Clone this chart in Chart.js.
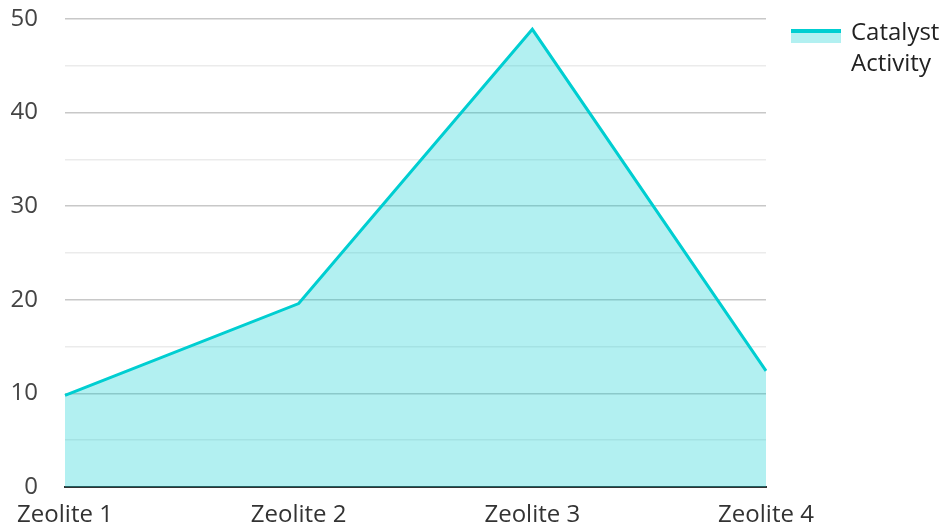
<!DOCTYPE html>
<html>
<head>
<meta charset="utf-8">
<script src="https://cdn.jsdelivr.net/npm/chart.js@4/dist/chart.umd.min.js"></script>
<style>
  html, body { margin: 0; padding: 0; background: #fff; }
  #wrap { width: 947px; height: 528px; position: relative; }
</style>
</head>
<body>
<div id="wrap"><canvas id="chart"></canvas></div>
<script>
const categories = ["Zeolite 1", "Zeolite 2", "Zeolite 3", "Zeolite 4"];
const activityValues = [9.8, 19.6, 48.9, 12.4];
const seriesName = ["Catalyst", "Activity"];

const lineColor = "rgb(0, 206, 209)";
const fillColor = "rgba(0, 206, 209, 0.3)";
const fontFamily = "'Open Sans', 'Noto Sans', sans-serif";

// legend drawn by hand so the label can wrap onto two lines
const sideLegend = {
    id: "sideLegend",
    afterDraw(chart) {
        const ctx = chart.ctx;
        const ds = chart.data.datasets[0];
        const x = chart.chartArea.right + 25, y = 29;
        ctx.save();
        ctx.fillStyle = ds.backgroundColor;
        ctx.fillRect(x, y, 50, 14);
        ctx.fillStyle = ds.borderColor;
        ctx.fillRect(x, y, 50, 4);
        ctx.fillStyle = "#222";
        ctx.font = "24px " + fontFamily;
        ctx.textBaseline = "middle";
        ds.label.forEach((line, i) => ctx.fillText(line, x + 60, 33 + i * 31));
        ctx.restore();
    },
};

const ctx = document.getElementById("chart").getContext("2d");
new Chart(ctx, {
    type: "line",
    data: {
        labels: categories,
        datasets: [
            {
                label: seriesName,
                data: activityValues,
                borderColor: lineColor,
                backgroundColor: fillColor,
                borderWidth: 3,
                fill: "origin",
                pointRadius: 0,
                tension: 0,
            },
        ],
    },
    options: {
        responsive: true,
        maintainAspectRatio: false,
        animation: false,
        layout: { padding: { top: 19, right: 181, left: 10, bottom: 0 } },
        plugins: { legend: { display: false }, tooltip: { enabled: false } },
        scales: {
            x: {
                offset: false,
                grid: { display: false, drawTicks: false },
                border: { display: true, color: "#333", width: 2 },
                ticks: {
                    color: "#333",
                    font: { family: fontFamily, size: 24 },
                    padding: 14,
                    maxRotation: 0,
                },
                afterFit: (s) => { s.paddingLeft = 0; s.paddingRight = 0; s.height = 41; },
            },
            y: {
                min: 0,
                max: 50,
                grid: {
                    drawTicks: false,
                    color: (c) => (c.tick.value % 10 === 0 ? "#c8c8c8" : "#ebebeb"),
                    lineWidth: 1.5,
                },
                border: { display: false },
                ticks: {
                    stepSize: 5,
                    color: "#444",
                    font: { family: fontFamily, size: 24 },
                    padding: 27,
                    callback: (v) => (v % 10 === 0 ? v : ""),
                },
                afterFit: (s) => { s.paddingTop = 0; s.paddingBottom = 0; s.width = 55; },
            },
        },
    },
    plugins: [sideLegend],
});
</script>
</body>
</html>
